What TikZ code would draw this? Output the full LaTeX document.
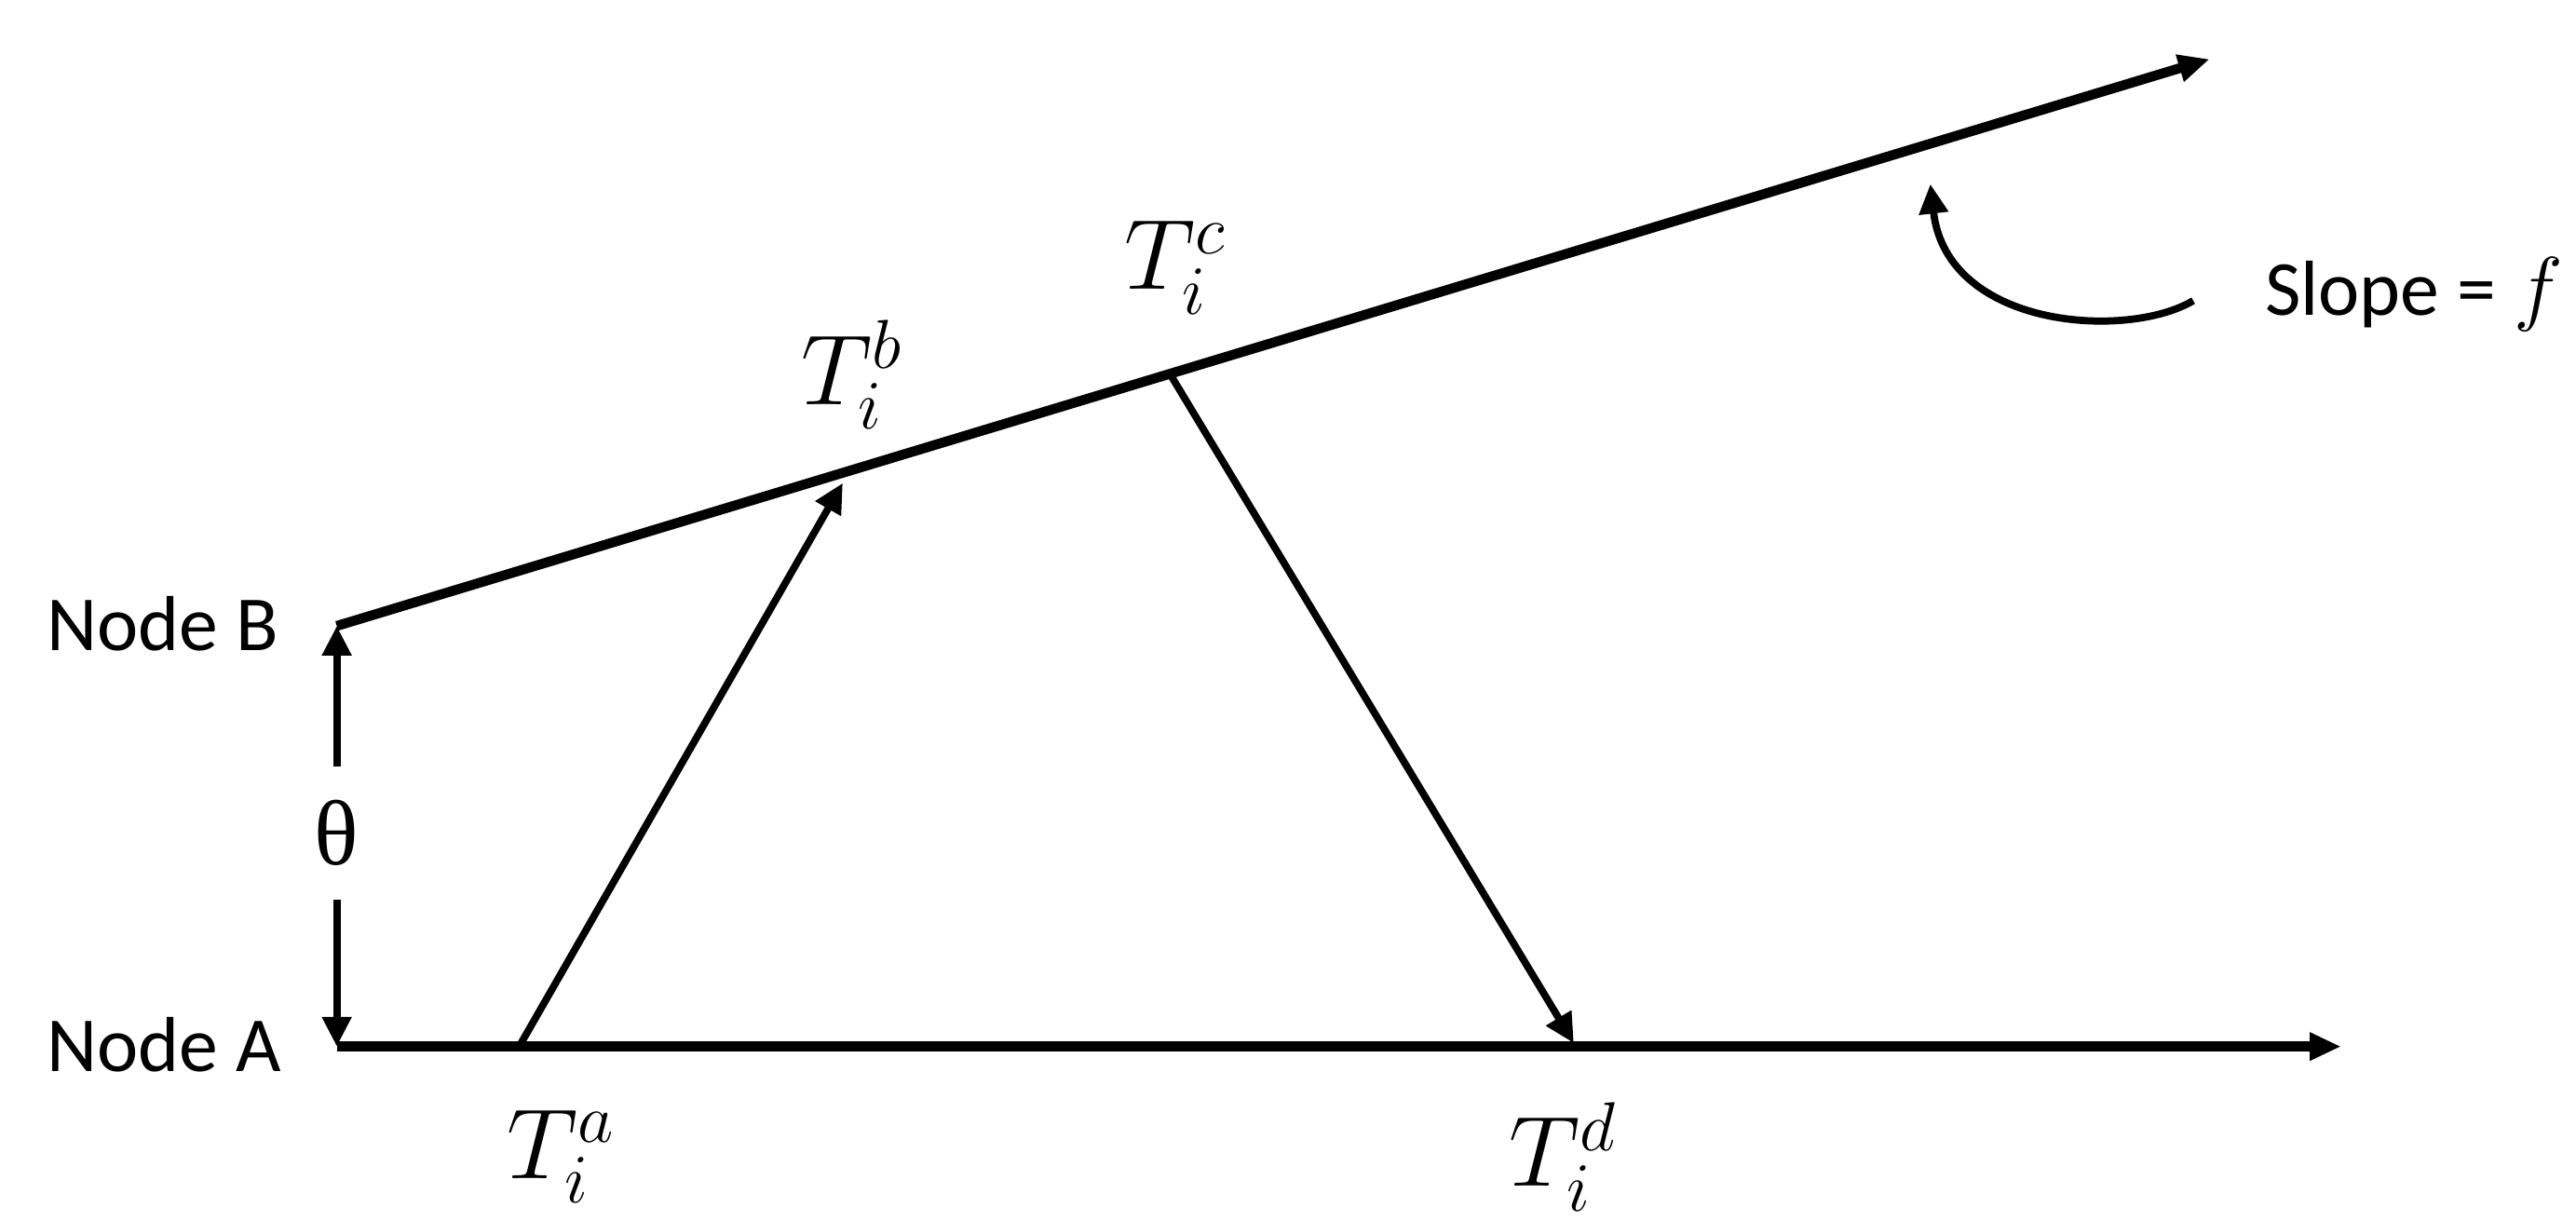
\documentclass[tikz,border=0pt]{standalone}
\usepackage{fontspec}
\setmainfont{Carlito}
\newfontfamily\thetafont{Liberation Serif}
\DeclareMathSizes{16.5}{16.5}{13}{10}
\usetikzlibrary{arrows.meta}
\begin{document}
\begin{tikzpicture}[x=0.01cm,y=-0.01cm,
  thickline/.style={line width=1.7pt},
  thinline/.style={line width=1.25pt},
  bighead/.style={-{Triangle[length=0.19cm,width=0.16cm]}},
  smallhead/.style={-{Triangle[length=0.18cm,width=0.17cm]}},
  lbl/.style={font=\fontsize{13.5}{16}\selectfont, inner sep=0pt},
  tlbl/.style={font=\fontsize{16.5}{19}\selectfont, inner sep=0pt}]
\useasboundingbox (0,0) rectangle (1568,743);
% axes
\coordinate (A0) at (205,637);
\coordinate (Aend) at (1425,637);
\coordinate (B0) at (205,381);
\coordinate (Bend) at (1345,36);
\coordinate (Ta) at (316,637);
\coordinate (Tb) at (513,294);
\coordinate (Tc) at (713,229);
\coordinate (Td) at (958,635);
\coordinate (cs) at (1335,183);
\coordinate (ce) at (1175,112);

\draw[thickline,bighead] (A0) -- (Aend);
\draw[thickline,bighead] (B0) -- (Bend);
\draw[thinline,smallhead] (Ta) -- (Tb);
\draw[thinline,smallhead] (Tc) -- (Td);

% labels
\node[lbl,anchor=base west] (nodeB) at (28,396) {Node B};
\node[lbl,anchor=base west] (nodeA) at (28,652) {Node A};
\node[inner sep=0pt,minimum height=0.8cm,font=\thetafont\fontsize{16}{19}\selectfont] (theta) at (205,507) {θ};
\draw[thinline,smallhead] (theta.north) -- (B0);
\draw[thinline,smallhead] (theta.south) -- (A0);

\node[tlbl] (la) at (342,704) {$T_i^a$};
\node[tlbl] (lb) at (519,228) {$T_i^b$};
\node[tlbl] (lc) at (716,163) {$T_i^c$};
\node[tlbl] (ld) at (952,704) {$T_i^d$};

% slope
\node[lbl,anchor=base west] (slope) at (1378,192) {Slope = $f$};
\draw[thinline,smallhead] (cs) .. controls (1295,207) and (1185,200) .. (ce);
\end{tikzpicture}
\end{document}
